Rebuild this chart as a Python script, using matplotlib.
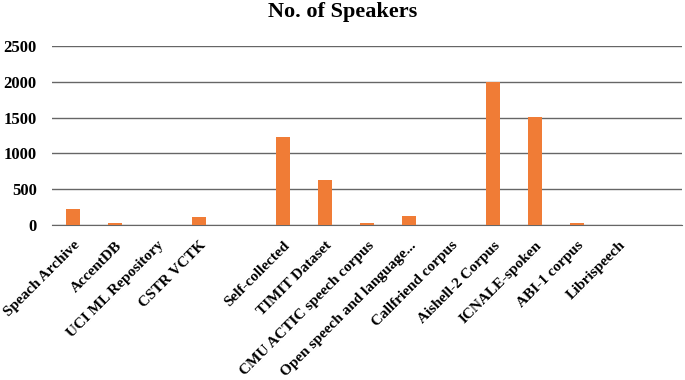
import matplotlib.pyplot as plt
import numpy as np

# Data (blank names are empty slots on the axis)
datasets = ['Speach Archive', 'AccentDB', 'UCI ML Repository', 'CSTR VCTK', '',
            'Self-collected', 'TIMIT Dataset', 'CMU ACTIC speech corpus',
            'Open speech and language...', 'Callfriend corpus', 'Aishell-2 Corpus',
            'ICNALE-spoken', 'ABI-1 corpus', 'Librispeech', '']
speakers = [220, 28, 0, 109, 0, 1235, 625, 30, 122, 0, 2000, 1505, 30, 0, 0]
y_ticks = [0, 500, 1000, 1500, 2000, 2500]

plt.rcParams['font.family'] = ['Liberation Serif', 'DejaVu Serif']
plt.rcParams['font.weight'] = 'bold'

fig = plt.figure(figsize=(6.85, 3.8), dpi=100)
ax = fig.add_axes([0.076, 0.408, 0.92, 0.471])

x = np.arange(len(datasets))
ax.bar(x, speakers, width=0.34, color='#F07C36', zorder=3)

ax.set_xlim(-0.5, len(datasets) - 0.5)
ax.set_ylim(0, 2500)
ax.set_yticks(y_ticks)
ax.set_yticklabels([str(v) for v in y_ticks], fontsize=12, fontweight='bold')
ax.set_xticks(x)
ax.set_xticklabels(datasets, rotation=45, ha='right', va='top',
                   rotation_mode='anchor', fontsize=11, fontweight='bold')
ax.tick_params(axis='y', length=0, pad=11)
ax.tick_params(axis='x', length=0, pad=10)

# Gridlines like the spreadsheet chart
ax.grid(axis='y', color='#666666', linewidth=1.0, zorder=0)
for side in ['top', 'right', 'left']:
    ax.spines[side].set_visible(False)
ax.spines['bottom'].set_color('#666666')

fig.text(0.5, 0.968, 'No. of Speakers', ha='center', va='center',
         fontsize=16, fontweight='bold')

fig.savefig('out.png', dpi=100)
